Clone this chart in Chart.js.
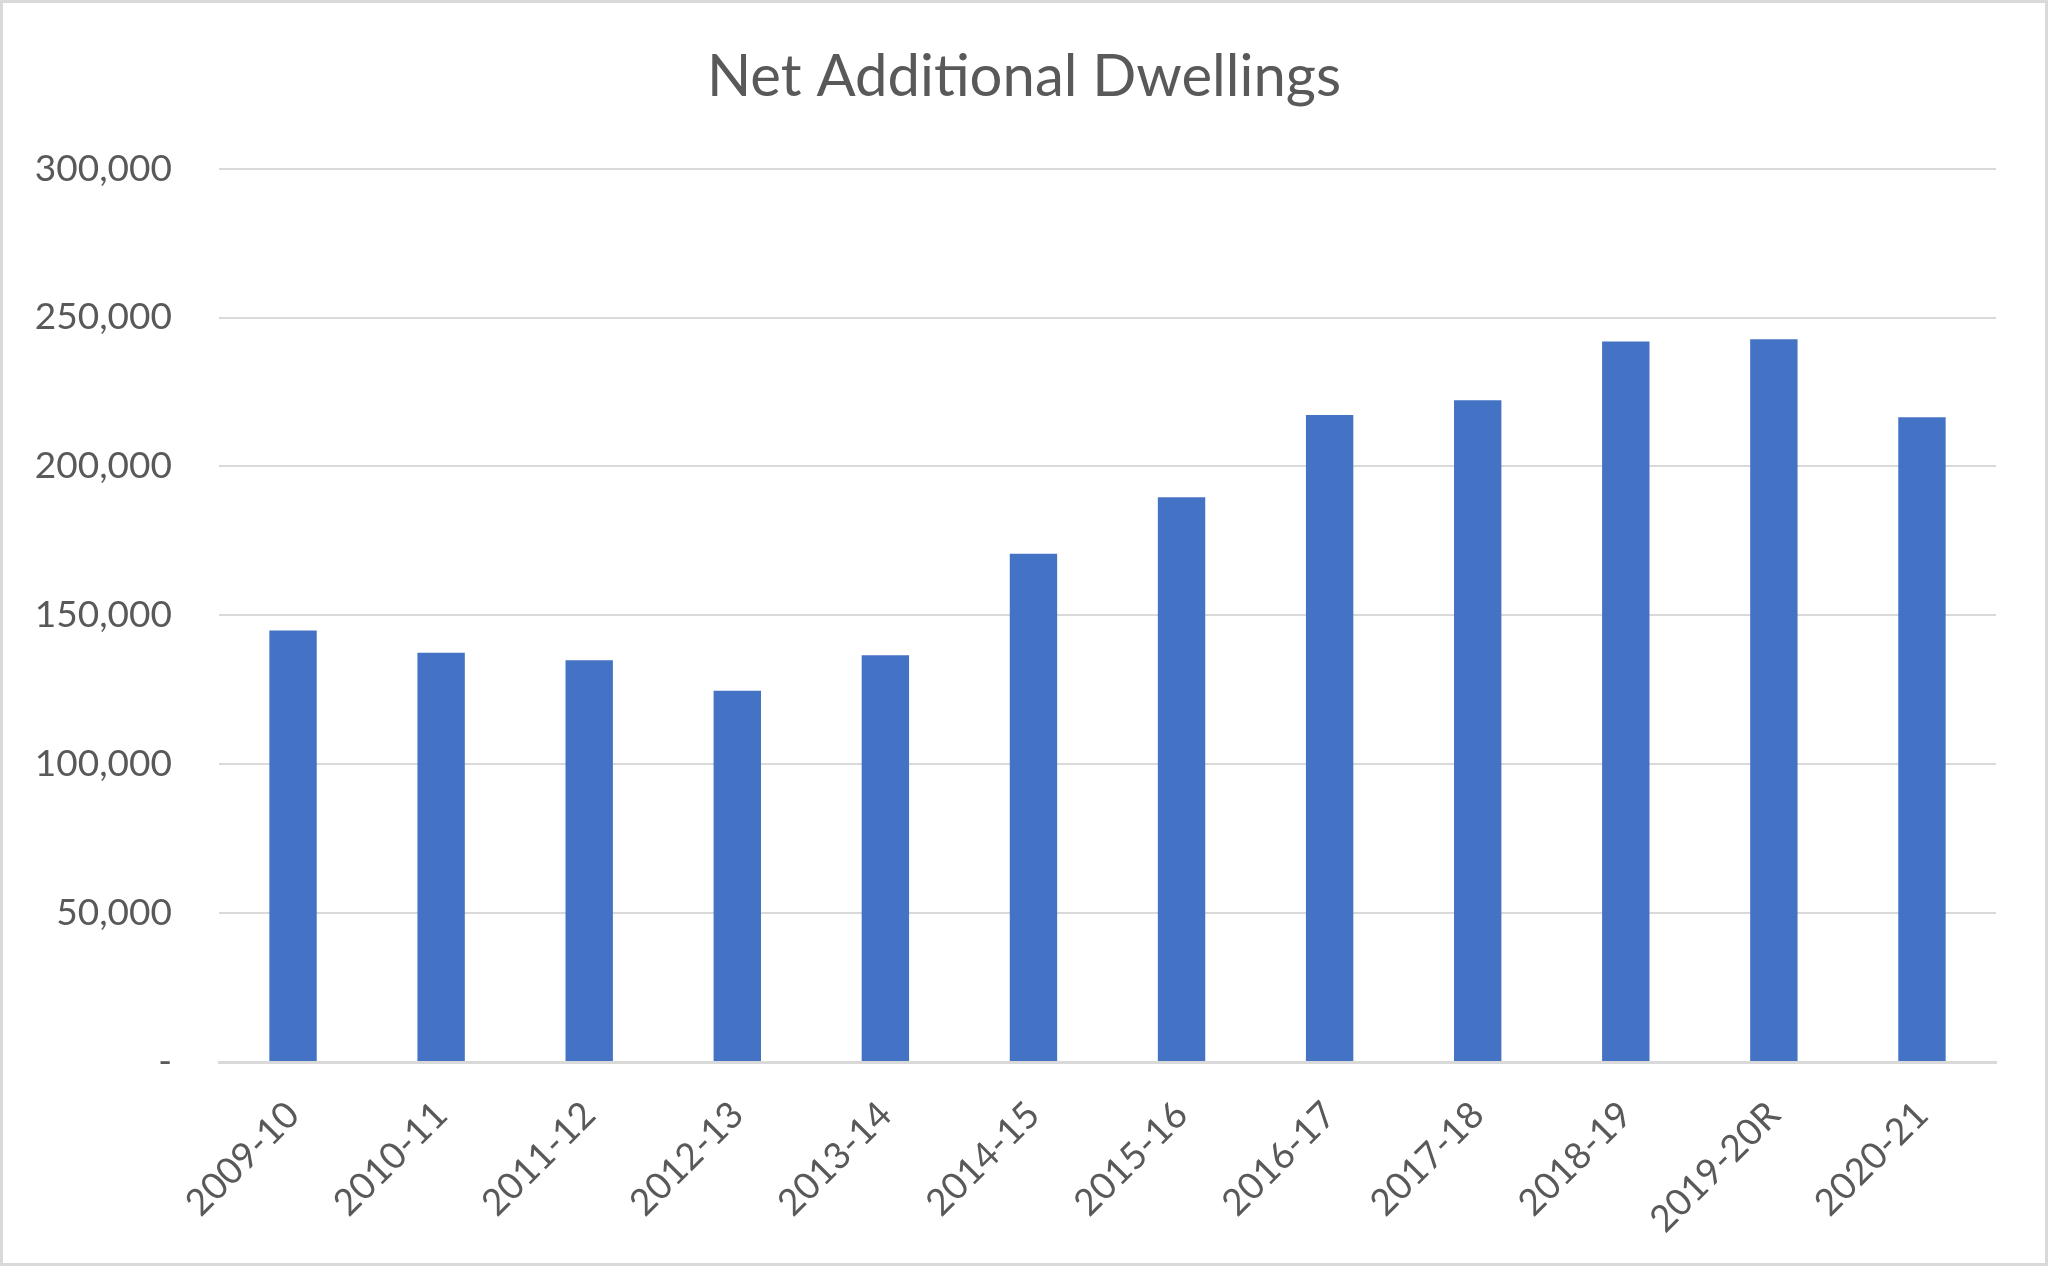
<!DOCTYPE html>
<html>
<head>
<meta charset="utf-8">
<script src="https://cdn.jsdelivr.net/npm/chart.js@4"></script>
<style>
  html, body { margin: 0; padding: 0; background: #fff; }
  canvas { display: block; }
</style>
</head>
<body>
<canvas id="chart" width="2048" height="1266"></canvas>
<script>
const years = ["2009-10", "2010-11", "2011-12", "2012-13", "2013-14", "2014-15",
  "2015-16", "2016-17", "2017-18", "2018-19", "2019-20R", "2020-21"];
const dwellings = [144900, 137400, 134900, 124700, 136600, 170700,
  189600, 217300, 222200, 241900, 242700, 216500];
const yTicks = [0, 50000, 100000, 150000, 200000, 250000, 300000];

const textColor = "#595959";
const lineColor = "#d9d9d9";
const fontFamily = "Lato, 'Open Sans', sans-serif";

// outer chart frame, like the spreadsheet chart border
const frame = {
  id: "frame",
  beforeDraw(chart) {
    const { ctx, width, height } = chart;
    ctx.save();
    ctx.fillStyle = "#fff";
    ctx.fillRect(0, 0, width, height);
    ctx.strokeStyle = lineColor;
    ctx.lineWidth = 3;
    ctx.strokeRect(1.5, 1.5, width - 3, height - 3);
    ctx.restore();
  }
};

new Chart(document.getElementById("chart"), {
  type: "bar",
  data: {
    labels: years,
    datasets: [{
      label: "Net Additional Dwellings",
      data: dwellings,
      backgroundColor: "#4472C4",
      categoryPercentage: 1,
      barPercentage: 0.32
    }]
  },
  options: {
    responsive: false,
    animation: false,
    layout: { padding: 0 },
    plugins: {
      legend: { display: false },
      tooltip: { enabled: false },
      title: {
        display: true,
        text: "Net Additional Dwellings",
        color: textColor,
        font: { family: fontFamily, size: 58, weight: "normal", lineHeight: 1.2 },
        padding: { top: 42, bottom: 57 }
      }
    },
    scales: {
      x: {
        grid: { display: false, drawTicks: false },
        border: { display: true, color: lineColor, width: 3 },
        ticks: {
          color: textColor,
          font: { family: fontFamily, size: 37 },
          minRotation: 45,
          maxRotation: 45,
          padding: 31
        },
        afterFit: s => { s.height = 204; }
      },
      y: {
        min: 0,
        max: 300000,
        afterBuildTicks: s => { s.ticks = yTicks.map(v => ({ value: v })); },
        grid: { color: lineColor, lineWidth: 2, drawTicks: false },
        border: { display: false },
        ticks: {
          color: textColor,
          font: { family: fontFamily, size: 37 },
          padding: 47,
          callback: v => v === 0 ? "-" : v.toLocaleString("en-GB")
        },
        afterFit: s => { s.width = 219; }
      },
      // empty right margin so the title stays centred on the canvas
      yRight: {
        position: "right",
        grid: { display: false, drawTicks: false },
        border: { display: false },
        ticks: { display: false },
        afterFit: s => { s.width = 52; }
      }
    }
  },
  plugins: [frame]
});
</script>
</body>
</html>
